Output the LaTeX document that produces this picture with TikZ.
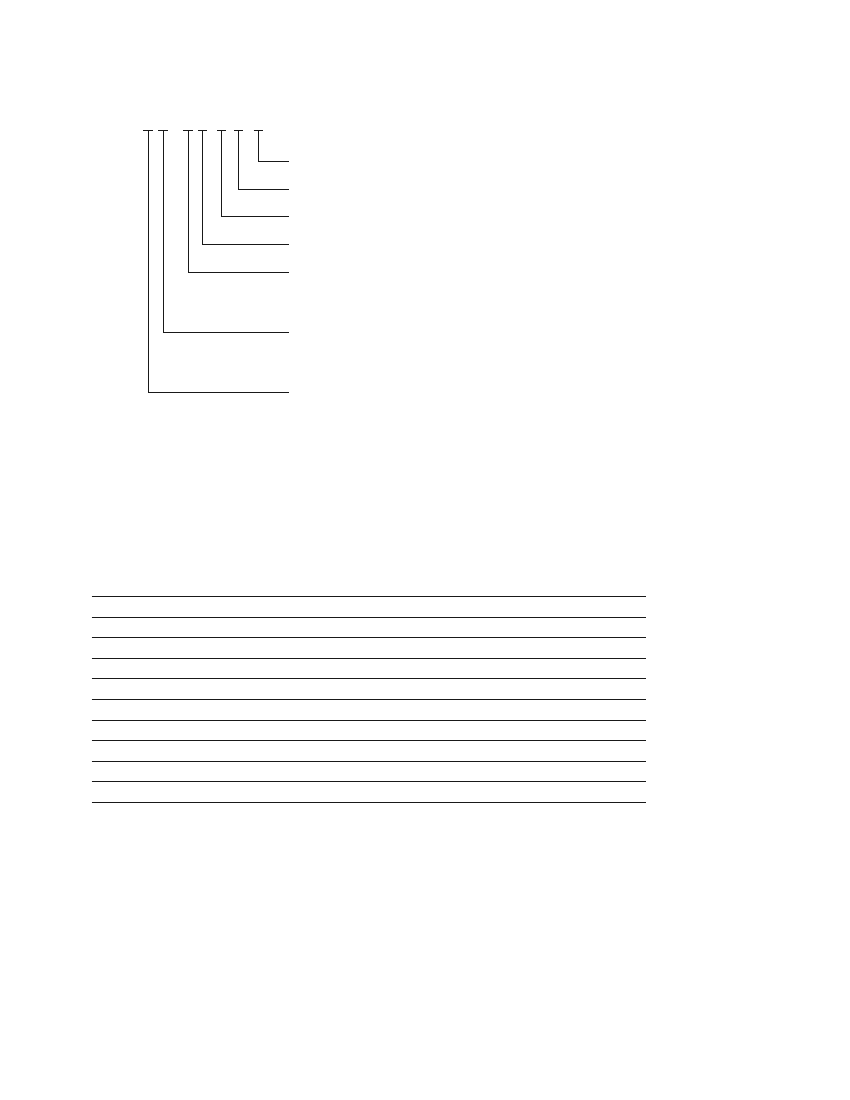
\documentclass[tikz,border=0pt]{standalone}
\begin{document}
\begin{tikzpicture}[x=1pt,y=-1pt,line width=0.9pt,
  rule/.style={draw=black!90,line cap=butt},
  teebar/.style={draw=black!90}]
\useasboundingbox (0,0) rectangle (850,1100);
% leader lines: top tee, vertical drop, horizontal run to x=289
\foreach \name/\x/\y in {a/148/392, b/163/332, c/188/272, d/202.5/244, e/221.7/216.5, f/238.7/189, g/258.3/161.5}{
  \coordinate (\name top) at (\x,130);
  \coordinate (\name corner) at (\x,\y);
  \coordinate (\name end) at (289,\y);
  \draw[teebar] ([xshift=-4.7pt]\name top) -- ([xshift=4.7pt]\name top);
  \draw[rule] (\name top) -- (\name corner) -- (\name end);
}
% table rules
\foreach \i in {0,...,10}{
  \coordinate (L\i) at (91.7,{596.7+20.56*\i});
  \coordinate (R\i) at (646,{596.7+20.56*\i});
  \draw[rule] (L\i) -- (R\i);
}
\end{tikzpicture}
\end{document}
